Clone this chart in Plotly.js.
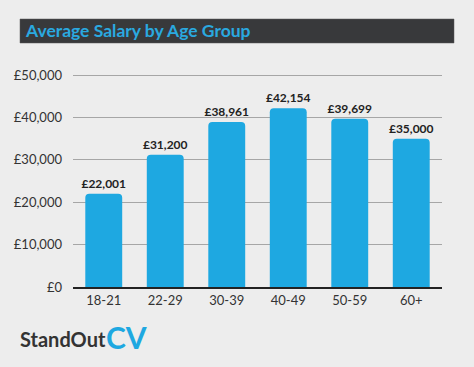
<!DOCTYPE html>
<html><head><meta charset="utf-8">
<script src="https://cdn.plot.ly/plotly-3.0.1.min.js"></script>
<style>html,body{margin:0;padding:0;background:#ededed;}#chart{width:474px;height:367px;}</style>
</head><body><div id="chart"></div>
<script>
const categories = ["18-21", "22-29", "30-39", "40-49", "50-59", "60+"];
const salaries = [22001, 31200, 38961, 42154, 39699, 35000];
const tickValues = [0, 10000, 20000, 30000, 40000, 50000];
const tickLabels = ["£0", "£10,000", "£20,000", "£30,000", "£40,000", "£50,000"];
const chartTitle = "Average Salary by Age Group";

const W = 474, H = 367;
const M = {l: 73, r: 32, t: 73, b: 80};
const pw = W - M.l - M.r, ph = H - M.t - M.b;
const px = x => (x - M.l) / pw;
const py = y => (H - M.b - y) / ph;

const fmt = v => "£" + v.toLocaleString("en-GB");

const trace = {
  type: "bar",
  x: categories,
  y: salaries,
  text: salaries.map(fmt),
  textposition: "outside",
  constraintext: "none",
  cliponaxis: false,
  textfont: {family: "Lato", size: 12, color: "#222222", weight: "bold"},
  marker: {color: "#1ea8e1", cornerradius: 4, line: {width: 0}},
  hoverinfo: "none"
};

const layout = {
  width: W, height: H,
  paper_bgcolor: "#ededed",
  plot_bgcolor: "#ededed",
  margin: M,
  bargap: 0.4,
  showlegend: false,
  font: {family: "Lato", color: "#333333"},
  title: {
    text: chartTitle,
    x: 26 / W, xanchor: "left", xref: "container",
    y: 1 - 31 / H, yanchor: "middle", yref: "container",
    font: {family: "Lato", size: 17.5, color: "#2aa9e0", weight: "bold"}
  },
  xaxis: {
    type: "category",
    showline: true, linecolor: "#222222", linewidth: 2,
    showgrid: false, ticks: "",
    tickfont: {family: "Lato", size: 13, color: "#333333"},
    fixedrange: true
  },
  yaxis: {
    range: [0, 50500],
    tickvals: tickValues,
    ticktext: tickLabels,
    showgrid: true, gridcolor: "#a6a6a6", gridwidth: 1,
    zeroline: false, showline: false, ticks: "",
    ticklabelstandoff: 10,
    tickfont: {family: "Lato", size: 13, color: "#333333"},
    fixedrange: true
  },
  shapes: [{
    type: "rect", xref: "paper", yref: "paper", layer: "below",
    x0: px(20), x1: px(454), y0: py(43), y1: py(19),
    fillcolor: "#38393b", line: {color: "#5a5a5a", width: 0.5}
  }],
  annotations: [
    {xref: "paper", yref: "paper", x: px(18), y: py(339), xanchor: "left", yanchor: "middle",
     text: "<b>StandOut</b>", showarrow: false,
     font: {family: "Lato", size: 20, color: "#333333"}},
    {xref: "paper", yref: "paper", x: px(104), y: py(337), xanchor: "left", yanchor: "middle",
     text: "<b>CV</b>", showarrow: false,
     font: {family: "Lato", size: 30, color: "#1ea8e1"}}
  ]
};

Plotly.newPlot("chart", [trace], layout, {displayModeBar: false, staticPlot: true});
</script></body></html>
